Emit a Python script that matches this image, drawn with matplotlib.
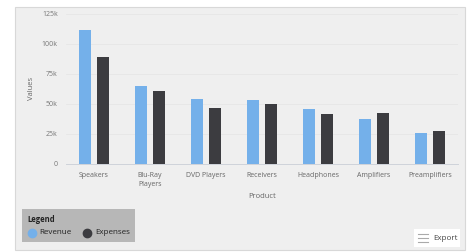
import matplotlib.pyplot as plt
from matplotlib.patches import Rectangle
from matplotlib.lines import Line2D
import numpy as np

products = ['Speakers', 'Blu-Ray\nPlayers', 'DVD Players', 'Receivers',
            'Headphones', 'Amplifiers', 'Preamplifiers']
revenue = [111000, 64800, 54200, 53200, 45700, 37600, 25500]
expenses = [88600, 60900, 46200, 49800, 41300, 42100, 27400]
yticks = [0, 25000, 50000, 75000, 100000, 125000]
ytick_labels = ['0', '25k', '50k', '75k', '100k', '125k']

W, H = 474, 252
font = 'Open Sans'

fig = plt.figure(figsize=(W / 100, H / 100), dpi=100)
fig.patch.set_facecolor('white')

def px(x, y):
    return x / W, 1 - y / H

# panel background
x0, y0 = px(15, 250)
fig.patches.append(Rectangle((x0, y0), 450 / W, 243 / H, transform=fig.transFigure,
                             facecolor='#efefef', edgecolor='#d8d8d8', lw=0.8, zorder=-1))

left, bottom = px(66, 164)
right, top = px(458, 13.5)
ax = fig.add_axes([left, bottom, right - left, top - bottom])
ax.set_facecolor('none')
ax.set_zorder(2)

x = np.arange(len(products))
w = 0.22
ax.bar(x - 0.155, revenue, w, color='#74b0ea', zorder=3)
ax.bar(x + 0.155, expenses, w, color='#3c3c40', zorder=3)

ax.set_xlim(-0.5, len(products) - 0.5)
ax.set_ylim(0, 125000)
ax.set_yticks(yticks)
ax.set_yticklabels(ytick_labels, fontsize=5, color='#777777', family=font)
ax.set_xticks(x)
ax.set_xticklabels(products, fontsize=5, color='#666666', family=font, linespacing=1.3)
ax.tick_params(length=0, pad=6)
ax.grid(axis='y', color='#e6e6e6', lw=0.6, zorder=0)
for s in ['top', 'right', 'left']:
    ax.spines[s].set_visible(False)
ax.spines['bottom'].set_color('#cfd3da')
ax.spines['bottom'].set_linewidth(0.7)

ax.set_xlabel('Product', fontsize=5.5, color='#666666', family=font, labelpad=4)
ax.set_ylabel('Values', fontsize=5.5, color='#666666', family=font, labelpad=5)

# legend box
lx, ly = px(22, 242)
fig.patches.append(Rectangle((lx, ly), 113 / W, 33 / H, transform=fig.transFigure,
                             facecolor='#b7b7b7', edgecolor='none', zorder=1))
fig.text(*px(27, 219), 'Legend', fontsize=5.5, fontweight='bold', color='#222222',
         family=font, va='center')
fig.lines.append(Line2D([px(32, 0)[0]], [px(0, 233)[1]], marker='o', ms=6,
                        color='#74b0ea', transform=fig.transFigure, zorder=2))
fig.text(*px(39, 233), 'Revenue', fontsize=5.8, color='#222222', family=font, va='center')
fig.lines.append(Line2D([px(87, 0)[0]], [px(0, 233)[1]], marker='o', ms=6,
                        color='#3c3c40', transform=fig.transFigure, zorder=2))
fig.text(*px(95, 233), 'Expenses', fontsize=5.8, color='#222222', family=font, va='center')

# export button
ex, ey = px(414, 247)
fig.patches.append(Rectangle((ex, ey), 46 / W, 18 / H, transform=fig.transFigure,
                             facecolor='white', edgecolor='none', zorder=1))
for yy in [234, 238, 242]:
    fig.lines.append(Line2D([px(418, 0)[0], px(428, 0)[0]], [px(0, yy)[1]] * 2,
                            color='#aaaaaa', lw=0.8, transform=fig.transFigure, zorder=2))
fig.text(*px(433, 238), 'Export', fontsize=5.8, color='#444444', family=font, va='center')

fig.savefig('out.png', dpi=100)
